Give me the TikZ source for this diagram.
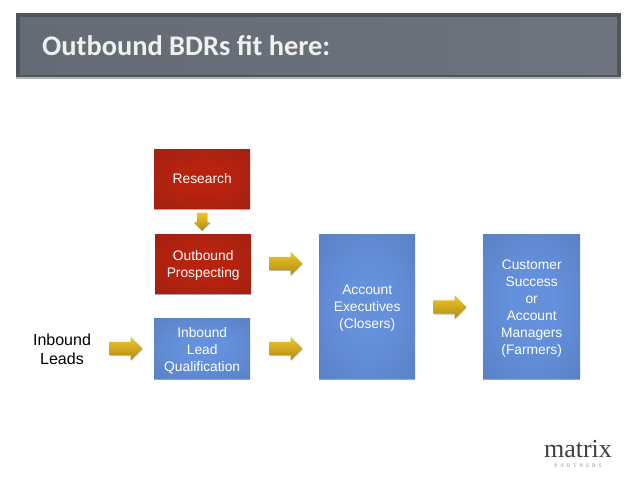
\documentclass[tikz,border=0pt]{standalone}
\usepackage{fontspec}
\setmainfont{Liberation Sans}
\newfontfamily\titlefont{Carlito}
\newfontfamily\logofont{Liberation Serif}
\usetikzlibrary{shapes.arrows,shadows}
\definecolor{redmid}{HTML}{B8230F}
\definecolor{rededge}{HTML}{951E12}
\definecolor{redout}{HTML}{761A11}
\definecolor{bluemid}{HTML}{6490DC}
\definecolor{blueedge}{HTML}{5578B8}
\definecolor{blueout}{HTML}{46659E}
\definecolor{headdark}{HTML}{50555D}
\definecolor{headmid}{HTML}{646B75}
\definecolor{headlite}{HTML}{6D747E}
\definecolor{arrowtop}{HTML}{EFC62A}
\definecolor{arrowbot}{HTML}{B08C12}
\pgfdeclareradialshading{redglow}{\pgfpoint{0bp}{0bp}}{color(0bp)=(redmid);color(12bp)=(redmid);color(50bp)=(rededge);color(72bp)=(redout);color(100bp)=(redout)}
\pgfdeclareradialshading{blueglow}{\pgfpoint{0bp}{0bp}}{color(0bp)=(bluemid);color(12bp)=(bluemid);color(50bp)=(blueedge);color(72bp)=(blueout);color(100bp)=(blueout)}
\newcommand{\firstline}[1]{\rule{0pt}{#1pt}}
\tikzset{
  softshadow/.style={drop shadow={shadow xshift=0pt,shadow yshift=-1.5pt,opacity=.35,fill=black}},
  redbox/.style={rectangle,draw=none,shading=redglow,softshadow,text=white,align=center,font=\fontsize{13.8}{17}\selectfont,inner sep=0pt,anchor=north west},
  bluebox/.style={rectangle,draw=none,shading=blueglow,softshadow,text=white,align=center,font=\fontsize{13.8}{17}\selectfont,inner sep=0pt,anchor=north west},
  goldarrow/.style={single arrow,draw=none,top color=arrowtop,bottom color=arrowbot,minimum height=33pt,single arrow head extend=5pt,single arrow tip angle=90,inner xsep=0pt,inner ysep=6.5pt,drop shadow={shadow xshift=.5pt,shadow yshift=-.8pt,opacity=.25,fill=black}},
}
\begin{document}
\begin{tikzpicture}[x=1pt,y=-1pt]
\useasboundingbox (0,0) rectangle (638,479);
\fill[white] (0,0) rectangle (638,479);
% header band
\node[rectangle,draw=none,fill=headdark,anchor=north west,minimum width=605pt,minimum height=64pt,inner sep=0pt,drop shadow={shadow xshift=0pt,shadow yshift=-1.5pt,opacity=.3,fill=black}] (band) at (16,13) {};
\node[rectangle,draw=none,left color=headmid,right color=headlite,anchor=north west,minimum width=597pt,minimum height=57pt,inner sep=0pt] (bandinner) at (20,17) {};
\node[text=white!94!black,font=\titlefont\bfseries\fontsize{28.4}{32}\selectfont,anchor=west,inner sep=0pt] (title) at (42,46) {Outbound BDRs fit here:};
% boxes
\node[redbox,minimum width=96pt,minimum height=59pt] (research) at (154,149) {Research};
\node[redbox,minimum width=96pt,minimum height=59pt] (outbound) at (155,234) {\firstline{14}Outbound\\Prospecting};
\node[bluebox,minimum width=96pt,minimum height=60pt] (lead) at (154,318) {\firstline{16}Inbound\\Lead\\Qualification};
\node[bluebox,minimum width=96pt,minimum height=144pt] (ae) at (319,234) {\firstline{14}Account\\Executives\\(Closers)};
\node[bluebox,minimum width=97pt,minimum height=144pt] (cs) at (483,234) {\firstline{14}Customer\\Success\\or\\Account\\Managers\\(Farmers)};
\node[align=center,font=\fontsize{16}{19}\selectfont,inner sep=0pt] (leads) at (62,349) {Inbound\\Leads};
% block arrows
\node[goldarrow,minimum height=18pt,inner xsep=5pt,inner ysep=0pt,single arrow head extend=3pt,shape border rotate=270] (a1) at (202,219) {};
\node[goldarrow] (a2) at (282.5,263.5) {};
\node[goldarrow] (a3) at (282.5,348.5) {};
\node[goldarrow] (a4) at (122.5,348.5) {};
\node[goldarrow] (a5) at (446.5,307) {};
% logo
\node[font=\logofont\fontsize{26}{26}\selectfont,text=black!75,inner sep=0pt,text depth=0pt] (logo) at (578,449) {matrix};
\node[font=\logofont\fontsize{5.5}{6}\selectfont,text=black!40,inner sep=0pt] (partners) at (578,465.5) {P\,\,\,A\,\,\,R\,\,\,T\,\,\,N\,\,\,E\,\,\,R\,\,\,S};
\end{tikzpicture}
\end{document}
